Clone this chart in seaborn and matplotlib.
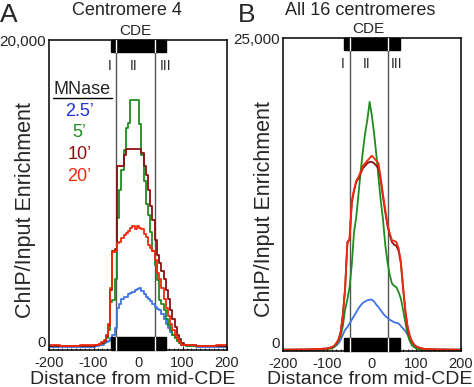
import numpy as np
import pandas as pd
import matplotlib
matplotlib.use('Agg')
import matplotlib.pyplot as plt
import matplotlib.ticker as mtick
from matplotlib.patches import Rectangle
import seaborn as sns

# MNase digestion times and colours
times = ['2.5’', '5’', '10’', '20’']
line_colors = ['#3f74e6', '#1e8c1e', '#8c1010', '#ee2b0e']
text_colors = ['#2233dd', '#1e8c1e', '#8c1010', '#ee2b0e']

# Panel A: Centromere 4 (values in thousands)
dist_a = [-200, -150, -110, -100, -95, -90, -85, -80, -75, -70, -65, -60, -55, -50,
          -45, -40, -35, -30, -25, -20, -15, -10, -5, 0, 5, 10, 15, 20, 25, 30, 35,
          40, 45, 50, 55, 60, 65, 70, 75, 80, 85, 90, 95, 100, 105, 110, 150, 200]
a_25 = [0.2, 0.2, 0.2, 0.22, 0.24, 0.26, 0.3, 0.35, 0.42, 0.5, 0.6, 0.8, 1.0, 1.4,
        2.7, 3.0, 3.3, 3.4, 3.45, 3.6, 3.7, 3.75, 3.85, 3.95, 4.0, 3.8, 3.6, 3.4, 3.3, 3.15, 3.0,
        2.8, 2.65, 2.55, 2.3, 2.0, 1.7, 1.4, 1.15, 0.95, 0.8, 0.6, 0.45, 0.35, 0.3, 0.25, 0.22, 0.22]
a_5 = [0.25, 0.25, 0.25, 0.28, 0.3, 0.32, 0.38, 0.45, 0.6, 0.8, 1.3, 3.1, 3.2, 4.6,
       8.5, 10.3, 11.6, 12.9, 14.3, 14.65, 16.1, 16.1, 16.1, 16.1, 14.6, 12.6, 10.9, 9.4, 8.7, 7.6, 6.4,
       5.5, 4.5, 3.2, 3.0, 2.6, 2.0, 1.6, 1.3, 1.0, 0.8, 0.6, 0.45, 0.35, 0.3, 0.28, 0.28, 0.28]
a_10 = [0.25, 0.25, 0.25, 0.28, 0.3, 0.32, 0.38, 0.45, 0.6, 0.9, 1.6, 3.9, 6.4, 6.5,
        11.9, 11.9, 11.9, 12.6, 13.0, 13.0, 13.0, 13.0, 13.0, 13.0, 13.0, 12.7, 11.9, 11.3, 10.3, 9.3, 8.4,
        7.1, 6.1, 5.6, 5.1, 4.6, 3.9, 3.3, 2.6, 2.0, 1.5, 1.0, 0.7, 0.45, 0.35, 0.3, 0.28, 0.28]
a_20 = [0.3, 0.28, 0.3, 0.3, 0.32, 0.35, 0.4, 0.5, 0.65, 0.95, 1.7, 4.0, 6.3, 6.4,
        6.9, 7.0, 7.2, 7.4, 7.55, 7.7, 7.9, 8.0, 7.8, 8.0, 7.9, 7.8, 7.5, 7.3, 6.8, 6.6, 6.4,
        5.8, 5.0, 4.6, 4.0, 3.3, 2.7, 2.2, 1.7, 1.3, 1.0, 0.75, 0.5, 0.35, 0.3, 0.3, 0.28, 0.3]

# Panel B: all 16 centromeres (values in thousands)
dist_b = [-200, -150, -120, -110, -100, -95, -90, -85, -80, -75, -70, -65, -60, -55,
          -50, -45, -40, -35, -30, -25, -20, -15, -10, -5, 0, 5, 10, 15, 20, 25, 30,
          35, 40, 45, 50, 55, 60, 65, 70, 75, 80, 85, 90, 95, 100, 110, 120, 150, 200]
b_25 = [0.1, 0.1, 0.12, 0.15, 0.2, 0.25, 0.3, 0.35, 0.45, 0.6, 0.9, 1.3, 1.7, 1.9,
        2.2, 2.5, 2.8, 3.1, 3.4, 3.65, 3.85, 3.95, 4.05, 4.1, 4.1, 3.95, 3.7, 3.5, 3.25, 3.0, 2.8,
        2.65, 2.5, 2.4, 2.3, 2.25, 2.2, 2.0, 1.8, 1.6, 1.3, 0.9, 0.6, 0.4, 0.25, 0.15, 0.12, 0.1, 0.1]
b_5 = [0.1, 0.1, 0.1, 0.12, 0.15, 0.18, 0.2, 0.3, 0.45, 0.8, 1.2, 2.0, 3.3, 4.1,
       5.1, 6.9, 9.5, 10.7, 12.5, 14.4, 16.0, 17.4, 18.5, 19.9, 18.8, 17.4, 15.7, 13.8, 12.0, 10.5, 8.5,
       7.1, 6.1, 5.4, 5.2, 5.1, 4.7, 4.2, 3.3, 2.3, 1.4, 0.8, 0.45, 0.3, 0.2, 0.12, 0.1, 0.1, 0.1]
b_10 = [0.1, 0.12, 0.15, 0.18, 0.2, 0.25, 0.3, 0.4, 0.6, 0.9, 1.5, 2.9, 5.0, 8.7,
        8.9, 11.8, 12.8, 13.5, 13.8, 14.2, 14.6, 14.8, 15.0, 15.1, 15.1, 15.0, 14.8, 14.6, 13.6, 12.3, 11.1,
        10.0, 9.3, 8.7, 8.5, 8.4, 8.0, 7.0, 5.0, 3.2, 1.9, 1.2, 0.75, 0.5, 0.35, 0.22, 0.15, 0.12, 0.1]
b_20 = [0.1, 0.12, 0.15, 0.18, 0.2, 0.25, 0.3, 0.4, 0.6, 0.9, 1.5, 2.9, 5.0, 8.5,
        9.0, 12.0, 12.9, 13.6, 13.9, 14.3, 14.8, 15.0, 15.2, 15.4, 15.6, 15.4, 15.2, 15.0, 13.8, 12.5, 11.3,
        10.2, 9.4, 8.85, 8.8, 8.7, 8.2, 7.2, 5.2, 3.3, 2.0, 1.2, 0.75, 0.5, 0.35, 0.22, 0.15, 0.12, 0.1]

# CDE element boundaries (bp from mid-CDE)
cde_a = (-61, -49, 38, 63)
cde_b = (-63, -49, 37, 63)


def long_df(dist, series):
    frames = []
    for t, vals in zip(times, series):
        frames.append(pd.DataFrame({'Distance': dist,
                                    'Enrichment': np.array(vals) * 1000,
                                    'MNase': t}))
    return pd.concat(frames, ignore_index=True)


sns.set_theme(style='white')
plt.rcParams['font.family'] = ['Liberation Sans', 'DejaVu Sans']

fig = plt.figure(figsize=(4.74, 3.87), dpi=100)
ax_a = fig.add_axes([0.1034, 0.0956, 0.3755, 0.801])
ax_b = fig.add_axes([0.5964, 0.093, 0.3762, 0.8088])


def draw_panel(ax, df, ymax, ylab, cde, steps, label_x, xlab_x, xlab_y):
    start, left, right, end = cde
    for xv in (left, right):
        ax.axvline(xv, color='#555555', lw=1.0, zorder=1)

    kw = {'drawstyle': 'steps-mid'} if steps else {}
    sns.lineplot(data=df, x='Distance', y='Enrichment', hue='MNase',
                 hue_order=times, palette=line_colors, linewidth=1.3,
                 estimator=None, legend=False, ax=ax, zorder=2, **kw)

    # CDE bars at top and bottom
    trans = ax.get_xaxis_transform()
    for y0, h in ((0, 0.042), (0.961, 0.039)):
        ax.add_patch(Rectangle((start, y0), end - start, h, transform=trans,
                               color='black', zorder=3, clip_on=False))
        for xv in (left, right):
            ax.plot([xv, xv], [y0, y0 + h], transform=trans, color='white',
                    lw=1.0, zorder=4, clip_on=False)

    ax.text((start + end) / 2 - 8, 1.03, 'CDE', transform=trans,
            ha='center', va='center', fontsize=11)
    for txt, xv in zip(['I', 'II', 'III'], [start - 2, (left + right) / 2 - 5, end - 2 if steps else end - 8]):
        ax.text(xv, 0.917, txt, transform=trans, ha='center', va='center', fontsize=10)

    ax.set_xlim(-200, 200)
    ax.set_ylim(0, ymax)
    ax.set_xticks([-200, -100, 0, 100, 200])
    ax.set_xticklabels(['-200', '-100', '0', '100', '200'])
    ax.xaxis.set_minor_locator(mtick.MultipleLocator(10))
    ax.set_yticks([0, ymax])
    ax.set_yticklabels(['0', ylab])
    ax.get_yticklabels()[0].set_va('bottom')
    ax.tick_params(axis='x', which='major', direction='in', length=3, width=0.8,
                   labelsize=10.5, pad=4, bottom=True)
    ax.tick_params(axis='x', which='minor', direction='in', length=1.5, width=0.6,
                   bottom=True)
    ax.tick_params(axis='y', length=0, labelsize=11, pad=2)
    for s in ax.spines.values():
        s.set_color('black')
        s.set_linewidth(1.1)

    ax.set_xlabel('Distance from mid-CDE', fontsize=14)
    ax.xaxis.set_label_coords(xlab_x, xlab_y)
    ax.xaxis.label.set_va('baseline')
    ax.set_ylabel('ChIP/Input Enrichment', fontsize=15.5)
    ax.yaxis.set_label_coords(label_x, 0.453)


draw_panel(ax_a, long_df(dist_a, [a_25, a_5, a_10, a_20]), 20000, '20,000',
           cde_a, True, -0.075, 0.47, -0.109)
draw_panel(ax_b, long_df(dist_b, [b_25, b_5, b_10, b_20]), 25000, '25,000',
           cde_b, False, -0.045, 0.49, -0.105)

# legend as coloured text
ax_a.text(0.188, 0.839, 'MNase', transform=ax_a.transAxes, ha='center',
          va='center', fontsize=13)
ax_a.plot([0.022, 0.354], [0.812, 0.812], transform=ax_a.transAxes,
          color='black', lw=1.0)
for i, (t, c) in enumerate(zip(times, text_colors)):
    ax_a.text(0.17, 0.771 - i * 0.07, t, transform=ax_a.transAxes,
              ha='center', va='center', fontsize=13, color=c)

fig.text(0.268, 0.972, 'Centromere 4', ha='center', va='center', fontsize=13)
fig.text(0.759, 0.972, 'All 16 centromeres', ha='center', va='center', fontsize=13)
fig.text(0.019, 0.962, 'A', ha='center', va='center', fontsize=19)
fig.text(0.521, 0.962, 'B', ha='center', va='center', fontsize=19)

fig.savefig('out.png', dpi=100)
